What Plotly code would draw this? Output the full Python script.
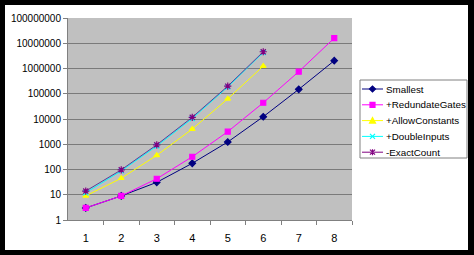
import plotly.graph_objects as go

x = [1, 2, 3, 4, 5, 6, 7, 8]
smallest = [3, 9, 31, 176, 1230, 12300, 150000, 2040000]
redundate = [3, 9, 43, 320, 3150, 44000, 750000, 16000000]
allowconst = [9, 45, 365, 4000, 63000, 1250000]
doubleinp = [12, 88, 850, 10500, 185000, 4300000]
exactcount = [14, 97, 950, 11700, 200000, 4600000]

names = ["Smallest", "+RedundateGates", "+AllowConstants", "+DoubleInputs", "-ExactCount"]

ytickvals = [1, 10, 100, 1000, 10000, 100000, 1000000, 10000000, 100000000]
yticktext = ["1", "10", "100", "1000", "10000", "100000", "1000000", "10000000", "100000000"]
xticktext = ["1", "2", "3", "4", "5", "6", "7", "8"]

D = "M -3 0 L 0 3 L 3 0 L 0 -3 Z"
S = "M -2.5 -2.5 L 2.5 -2.5 L 2.5 2.5 L -2.5 2.5 Z"
TRI = "M -3 -2.5 L 3 -2.5 L 0 3 Z"
XX = "M -2.5 -2.5 L 2.5 2.5 M -2.5 2.5 L 2.5 -2.5"
AST = "M -2.5 -2.5 L 2.5 2.5 M -2.5 2.5 L 2.5 -2.5 M 0 -3 L 0 3"
styles = [
    ("#000080", "diamond", 5, "#000080", D, True),
    ("#FF00FF", "square", 5, "#FF00FF", S, True),
    ("#FFFF00", "triangle-up", 5, "#FFFF00", TRI, True),
    ("#00FFFF", "x-thin-open", 5, "#00FFFF", XX, False),
    ("#5a3a9a", "asterisk-open", 6, "#800080", AST, False),
]
data = [smallest, redundate, allowconst, doubleinp, exactcount]

fig = go.Figure()
for name, ys, (col, sym, sz, mcol, _, _) in zip(names, data, styles):
    fig.add_trace(go.Scatter(
        x=x[:len(ys)], y=ys, name=name, mode="lines+markers",
        line=dict(color=col, width=1),
        marker=dict(symbol=sym, size=sz, color=mcol, line=dict(color=mcol, width=1.2)),
        showlegend=False,
    ))

L, R, T, B = 68, 352, 18, 220
W, H = 474, 255
pw, ph = R - L, B - T

def px2x(p):
    return (p - L) / pw

def py2y(p):
    return (B - p) / ph

wl, wr, wt, wb = px2x(5), px2x(468), py2y(5), py2y(250)
for x0, x1, y0, y1 in [(wl, 0, wb, wt), (1, wr, wb, wt), (0, 1, 1, wt), (0, 1, wb, 0)]:
    fig.add_shape(type="rect", xref="paper", yref="paper",
                  x0=x0, x1=x1, y0=y0, y1=y1,
                  fillcolor="white", line=dict(width=0), layer="below")

fig.add_shape(type="rect", xref="paper", yref="paper",
              x0=px2x(360), x1=px2x(467), y0=py2y(158), y1=py2y(80),
              fillcolor="white", line=dict(color="#808080", width=1), layer="above")
row0, rowgap = 89, 15.8
for i, (name, (col, sym, sz, mcol, path, filled)) in enumerate(zip(names, styles)):
    ry = py2y(row0 + i * rowgap)
    legline = mcol if i == 4 else col
    fig.add_shape(type="line", xref="paper", yref="paper",
                  x0=px2x(362), x1=px2x(383), y0=ry, y1=ry,
                  line=dict(color=legline, width=1), layer="above")
    fig.add_shape(type="path", xref="paper", yref="paper",
                  xsizemode="pixel", ysizemode="pixel",
                  xanchor=px2x(372.5), yanchor=ry, path=path,
                  fillcolor=mcol if filled else "rgba(0,0,0,0)",
                  line=dict(color=mcol, width=1.2), layer="above")
    fig.add_annotation(xref="paper", yref="paper", x=px2x(383.5), y=ry,
                       xanchor="left", yanchor="middle", text=name, showarrow=False,
                       font=dict(size=9.8, color="black"))

fig.update_layout(
    width=W, height=H,
    margin=dict(l=L, r=W - R, t=T, b=H - B, pad=0, autoexpand=False),
    paper_bgcolor="black",
    plot_bgcolor="#C0C0C0",
    font=dict(family="Liberation Sans, Arial, sans-serif", size=10, color="black"),
    showlegend=False,
    xaxis=dict(
        range=[0.5, 8.5], tickvals=x, ticktext=xticktext,
        showgrid=False, zeroline=False, showline=True, linecolor="#808080", linewidth=1,
        ticks="", tickfont=dict(size=11), ticklabelstandoff=8,
    ),
    yaxis=dict(
        type="log", range=[0, 8], tickvals=ytickvals, ticktext=yticktext,
        showgrid=True, gridcolor="#7a7a7a", gridwidth=1, zeroline=False,
        showline=True, linecolor="#808080", linewidth=1,
        ticks="outside", ticklen=4, tickcolor="#808080", tickfont=dict(size=10),
    ),
)
fig.update_xaxes(minor=dict(tickvals=[1.5, 2.5, 3.5, 4.5, 5.5, 6.5, 7.5, 8.5],
                            ticks="outside", ticklen=4, tickcolor="#808080", showgrid=False))

fig.write_html("out.html")
